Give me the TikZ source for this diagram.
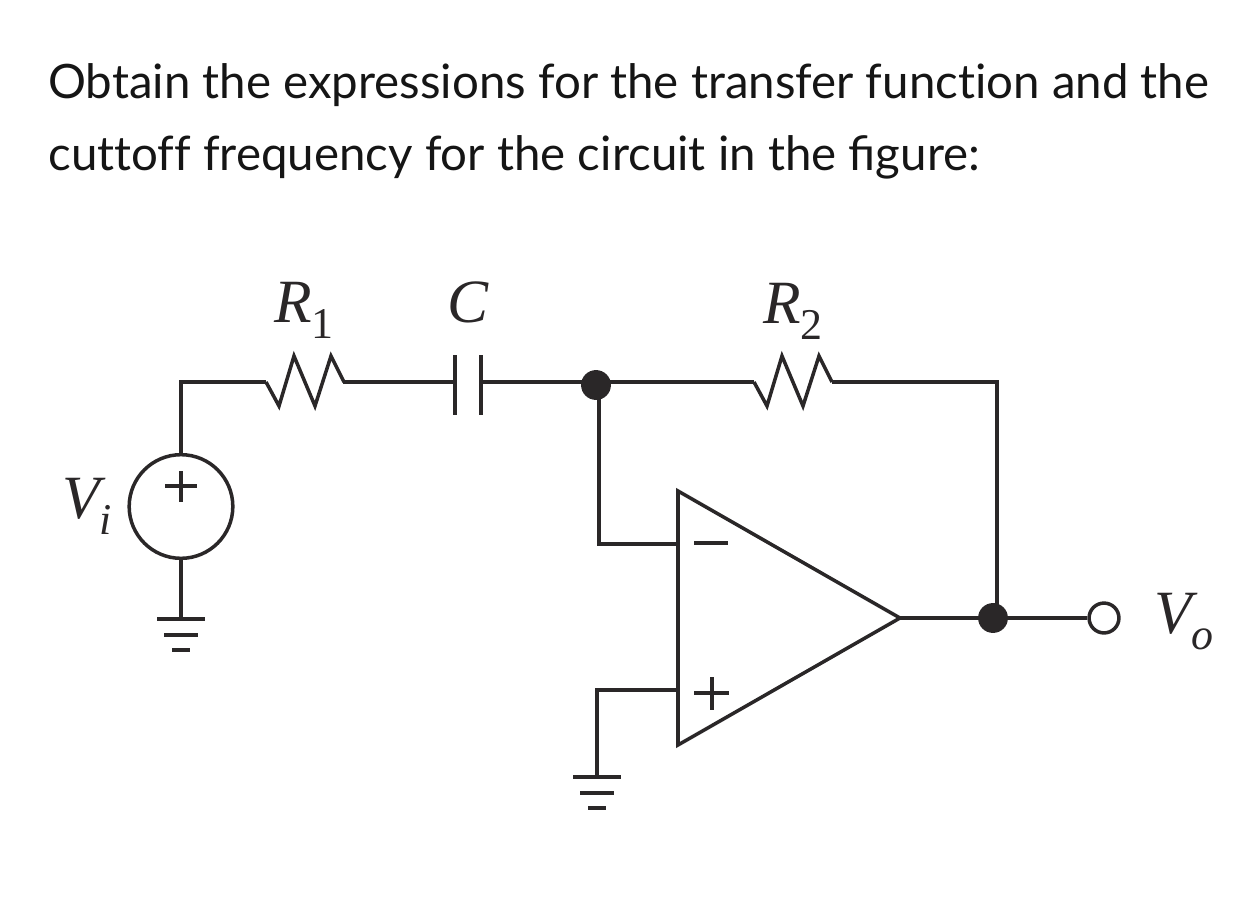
\documentclass[tikz,border=0pt]{standalone}
\usepackage{fontspec}
\setmainfont{Lato}
\newfontfamily\circfont{Liberation Serif}
\usetikzlibrary{calc}
\definecolor{wirecol}{HTML}{2A2728}
\definecolor{textcol}{HTML}{151515}
\newcommand{\tiefsub}[1]{\raisebox{-9.2pt}{\fontsize{25}{25}\selectfont #1}}
\tikzset{
  wire/.style={draw=wirecol,line width=2pt,line join=miter},
  titletext/.style={anchor=base west,inner sep=0pt,text=textcol,font=\fontsize{27}{30}\selectfont},
  symb/.style={anchor=base west,inner sep=0pt,text=wirecol,font=\circfont\itshape\fontsize{35}{38}\selectfont},
  dot/.style={circle,fill=wirecol,draw=none,minimum size=17pt,inner sep=0pt},
  opencirc/.style={circle,fill=white,draw=wirecol,line width=2pt,minimum size=17pt,inner sep=0pt},
  source/.style={circle,fill=white,draw=wirecol,line width=2pt,minimum size=59pt,inner sep=0pt}
}
\begin{document}
\begin{tikzpicture}[x=0.02cm,y=-0.02cm]
\useasboundingbox (0,0) rectangle (1242,913);
%Text
\node[titletext] (line1) at (48,98) {Obtain the expressions for the transfer funct\kern0pt ion and the};
\node[titletext] (line2) at (48,170) {cut\kern0pt tof\kern0pt f frequency for the circuit in the figure:};
%Punkte
\coordinate (corner) at (181,382);
\coordinate (gndA) at (181,619);
\coordinate (gndB) at (597,777);
\coordinate (Rastart) at (266,382);
\coordinate (Raend) at (343,382);
\coordinate (Ca) at (455,382);
\coordinate (Cb) at (481,382);
\coordinate (Rbstart) at (754,382);
\coordinate (Rbend) at (832,382);
\coordinate (fbtop) at (997,382);
\coordinate (inm) at (678,544);
\coordinate (inp) at (678,690);
\coordinate (inmc) at (599,544);
\coordinate (inpc) at (597,690);
\coordinate (optop) at (678,491);
\coordinate (opbot) at (678,745);
\coordinate (opout) at (900,618);
\node[dot] (nodeA) at (596,385) {};
\node[dot] (nodeB) at (993,618) {};
\node[opencirc] (Vout) at (1104,618) {};
\node[source] (Vsrc) at (181,506.5) {};
%Leitungen
\draw[wire] (Vsrc.north) -- (corner) -- (Rastart);
\draw[wire] (Vsrc.south) -- (gndA);
\draw[wire] (Raend) -- (Ca);
\draw[wire] (Cb) -- (Cb -| nodeA.center);
\draw[wire] (nodeA.center |- Rbstart) -- (Rbstart);
\draw[wire] (Rbend) -- (fbtop) -- (fbtop |- nodeB);
\draw[wire] (inmc |- nodeA) -- (inmc) -- (inm);
\draw[wire] (inp) -- (inpc) -- (gndB);
\draw[wire] (opout) -- (nodeB) -- (Vout);
%Widerstaende
\foreach \Rn in {Rastart,Rbstart}{
\draw[wire] (\Rn) -- ++(13,24) -- ++(15,-50) -- ++(21,50) -- ++(16,-50) -- ++(13,26);
}
%Kondensator
\foreach \Cn in {Ca,Cb}{
\draw[wire] ($(\Cn)+(0,-27)$) -- ($(\Cn)+(0,33)$);
}
%Masse
\foreach \Gn in {gndA,gndB}{
\draw[wire] ($(\Gn)+(-24,0)$) -- ($(\Gn)+(24,0)$);
\draw[wire] ($(\Gn)+(-17,16)$) -- ($(\Gn)+(17,16)$);
\draw[wire] ($(\Gn)+(-9,31)$) -- ($(\Gn)+(9,31)$);
}
%OPV
\draw[wire,fill=white] (optop) -- (opout) -- (opbot) -- cycle;
\draw[wire] (694,543) -- (728,543);
\draw[wire] (694,693) -- (729,693);
\draw[wire] (712,677) -- (712,710);
\draw[wire] (165,486) -- (197,486);
\draw[wire] (181,471) -- (181,502);
%Beschriftung
\node[symb] (Ra) at (274,322) {R\tiefsub{\upshape 1}};
\node[symb] (Cap) at (447,322) {C};
\node[symb] (Rb) at (763,323) {R\tiefsub{\upshape 2}};
\node[symb] (Vi) at (62,518) {V\tiefsub{i}};
\node[symb] (Vo) at (1154,633) {V\tiefsub{o}};
\end{tikzpicture}
\end{document}
